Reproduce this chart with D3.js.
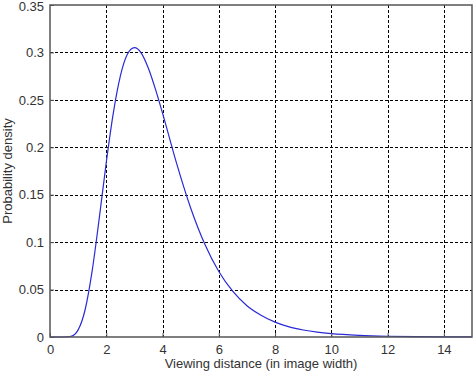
<!DOCTYPE html>
<html><head><meta charset="utf-8">
<script src="https://cdn.jsdelivr.net/npm/d3@7"></script>
<style>body{margin:0;background:#fff}svg{display:block}text{font-family:"Liberation Sans",Arial,sans-serif}</style>
</head><body>
<svg id="c" width="474" height="373"></svg>
<script>
const xVals = [0,0.25,0.5,0.75,1,1.25,1.5,1.75,2,2.25,2.5,2.75,3,3.25,3.5,3.75,4,4.5,5,5.5,6,6.5,7,7.5,8,8.5,9,9.5,10,11,12,13,14,15];
const yVals = [0,0,0.00002,0.0008,0.0075,0.029,0.070,0.125,0.184,0.236,0.275,0.298,0.305,0.299,0.283,0.261,0.236,0.183,0.136,0.098,0.069,0.048,0.033,0.023,0.0157,0.0107,0.0074,0.0051,0.0035,0.0017,0.0008,0.0004,0.0002,0.0001];
const xTicks = [0,2,4,6,8,10,12,14];
const yTicks = [0,0.05,0.1,0.15,0.2,0.25,0.3,0.35];
const xLabel = "Viewing distance (in image width)";
const yLabel = "Probability density";

const svg = d3.select("#c");
const L=50, R=472, T=5, B=337;
const x = d3.scaleLinear().domain([0,15]).range([L,R]);
const y = d3.scaleLinear().domain([0,0.35]).range([B,T]);

const grid = svg.append("g").attr("stroke","#000").attr("stroke-width",1).attr("stroke-dasharray","3,2");
xTicks.filter(t=>t>0).forEach(t=>grid.append("line").attr("x1",Math.round(x(t))+0.5).attr("x2",Math.round(x(t))+0.5).attr("y1",T).attr("y2",B));
yTicks.filter(t=>t>0&&t<0.35).forEach(t=>grid.append("line").attr("y1",Math.round(y(t))+0.5).attr("y2",Math.round(y(t))+0.5).attr("x1",L).attr("x2",R));

const pts = xVals.map((v,i)=>[v,yVals[i]]);
svg.append("path").datum(pts).attr("fill","none").attr("stroke","#2a2ad6").attr("stroke-width",1.2)
  .attr("d", d3.line().x(d=>x(d[0])).y(d=>y(d[1])).curve(d3.curveMonotoneX));

const xa = svg.append("g").attr("transform",`translate(0,${B})`).call(d3.axisBottom(x).tickValues(xTicks).tickFormat(d3.format("d")).tickSizeInner(-4).tickSizeOuter(0).tickPadding(8));
const ya = svg.append("g").attr("transform",`translate(${L},0)`).call(d3.axisLeft(y).tickValues(yTicks).tickFormat(d=>d===0?"0":String(d)).tickSizeInner(-4).tickSizeOuter(0).tickPadding(6));
[xa,ya].forEach(a=>{a.selectAll("text").attr("font-size",13).attr("fill","#333").style("font-family","'Liberation Sans',Arial,sans-serif");a.selectAll("line").attr("stroke","#555");a.select(".domain").remove();});
ya.selectAll(".tick").filter(d=>d===0.35).select("text").attr("dy","0.45em");

svg.append("rect").attr("x",L).attr("y",T).attr("width",R-L).attr("height",B-T).attr("fill","none").attr("stroke","#555").attr("stroke-width",1.5);

svg.append("text").attr("x",(L+R)/2).attr("y",368).attr("text-anchor","middle").attr("font-size",13).attr("fill","#333").text(xLabel);
svg.append("text").attr("transform",`translate(12,${(T+B)/2}) rotate(-90)`).attr("text-anchor","middle").attr("font-size",13).attr("fill","#333").text(yLabel);
</script>
</body></html>
